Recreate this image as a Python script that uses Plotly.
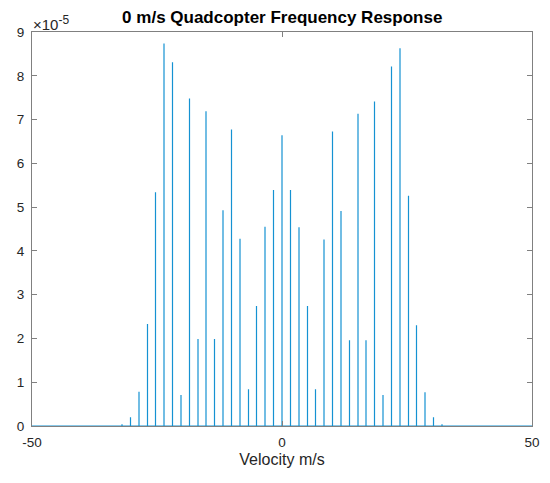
import plotly.graph_objects as go

# spike velocities (m/s) and magnitudes (units of 1e-5)
velocity = [-32.0, -30.3, -28.6, -26.9, -25.3, -23.6, -21.9, -20.2, -18.5, -16.8,
            -15.2, -13.5, -11.8, -10.1, -8.4, -6.7, -5.1, -3.4, -1.7, 0.0,
            1.7, 3.4, 5.1, 6.7, 8.4, 10.1, 11.8, 13.5, 15.2, 16.8,
            18.5, 20.2, 21.9, 23.6, 25.3, 26.9, 28.6, 30.3, 32.0]
magnitude = [0.04, 0.2, 0.78, 2.33, 5.34, 8.74, 8.31, 0.71, 7.48, 1.99,
             7.19, 1.99, 4.93, 6.77, 4.28, 0.84, 2.74, 4.55, 5.39, 6.64,
             5.39, 4.54, 2.74, 0.84, 4.26, 6.73, 4.91, 1.96, 7.13, 1.96,
             7.41, 0.71, 8.21, 8.63, 5.26, 2.30, 0.77, 0.2, 0.04]
scale = 1e-5
x_range = [-50, 50]
x_ticks = [-50, 0, 50]
y_ticks = [0, 1, 2, 3, 4, 5, 6, 7, 8, 9]

# build the line: flat zero baseline with a vertical spike at each velocity
xs = [x_range[0]]
ys = [0]
for v, m in zip(velocity, magnitude):
    xs += [v, v, v]
    ys += [0, m * scale, 0]
xs.append(x_range[1])
ys.append(0)

fig = go.Figure(
    go.Scatter(x=xs, y=ys, mode="lines", line=dict(color="#1592d2", width=1.2),
               hoverinfo="skip")
)

axis_common = dict(
    showline=True, linecolor="#808080", linewidth=1, mirror="ticks",
    ticks="inside", ticklen=5, tickcolor="#808080", showgrid=False,
    zeroline=False, automargin=False, ticklabelstandoff=4,
    tickfont=dict(size=13.5, color="#262626"),
)

# the page body adds an 8px margin, so the figure is a little smaller than the window
fig.update_layout(
    width=542, height=475,
    margin=dict(l=24, r=18, t=24, b=57),
    paper_bgcolor="white", plot_bgcolor="white",
    font=dict(family="Liberation Sans, Arial, sans-serif", color="#262626"),
    showlegend=False,
    title=dict(text="<b>0 m/s Quadcopter Frequency Response</b>",
               x=0.506, xref="container", xanchor="center",
               y=0.981, yref="container", yanchor="middle",
               font=dict(size=17, color="black")),
    xaxis=dict(range=x_range, tickvals=x_ticks,
               ticktext=[str(t) for t in x_ticks],
               title=dict(text="Velocity m/s", font=dict(size=16), standoff=4),
               **axis_common),
    yaxis=dict(range=[0, 9 * scale], tickvals=[t * scale for t in y_ticks],
               ticktext=[str(t) for t in y_ticks], **axis_common),
)

fig.add_annotation(text="\u00d710<sup><span style='font-size:12px'>-5</span></sup>",
                   xref="paper", yref="paper",
                   x=0, y=1, xanchor="left", yanchor="bottom", showarrow=False,
                   xshift=-1, yshift=-3, font=dict(size=15, color="#262626"))

fig.write_html("out.html")
